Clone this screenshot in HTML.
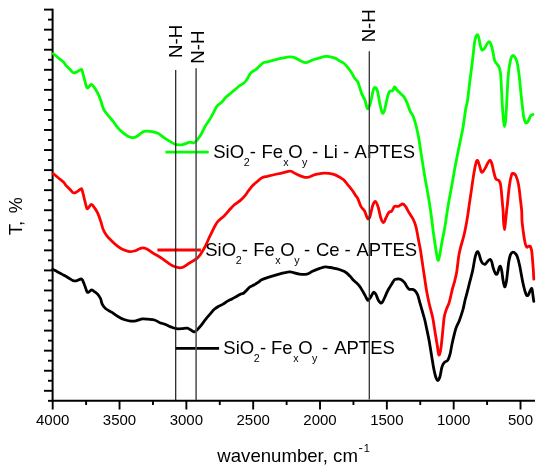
<!DOCTYPE html>
<html><head><meta charset="utf-8"><style>
html,body{margin:0;padding:0;background:#fff;}
svg{display:block;}
text{font-family:"Liberation Sans",Arial,sans-serif;fill:#000;}
</style></head><body>
<svg width="550" height="473" viewBox="0 0 550 473">
<rect width="550" height="473" fill="#fff"/>
<g stroke="#000" stroke-width="1.9" fill="none">
<line x1="44" y1="9.60" x2="52.6" y2="9.60"/>
<line x1="48" y1="19.63" x2="52.6" y2="19.63"/>
<line x1="44" y1="29.66" x2="52.6" y2="29.66"/>
<line x1="48" y1="39.69" x2="52.6" y2="39.69"/>
<line x1="44" y1="49.73" x2="52.6" y2="49.73"/>
<line x1="48" y1="59.76" x2="52.6" y2="59.76"/>
<line x1="44" y1="69.79" x2="52.6" y2="69.79"/>
<line x1="48" y1="79.82" x2="52.6" y2="79.82"/>
<line x1="44" y1="89.85" x2="52.6" y2="89.85"/>
<line x1="48" y1="99.88" x2="52.6" y2="99.88"/>
<line x1="44" y1="109.92" x2="52.6" y2="109.92"/>
<line x1="48" y1="119.95" x2="52.6" y2="119.95"/>
<line x1="44" y1="129.98" x2="52.6" y2="129.98"/>
<line x1="48" y1="140.01" x2="52.6" y2="140.01"/>
<line x1="44" y1="150.04" x2="52.6" y2="150.04"/>
<line x1="48" y1="160.07" x2="52.6" y2="160.07"/>
<line x1="44" y1="170.11" x2="52.6" y2="170.11"/>
<line x1="48" y1="180.14" x2="52.6" y2="180.14"/>
<line x1="44" y1="190.17" x2="52.6" y2="190.17"/>
<line x1="48" y1="200.20" x2="52.6" y2="200.20"/>
<line x1="44" y1="210.23" x2="52.6" y2="210.23"/>
<line x1="48" y1="220.26" x2="52.6" y2="220.26"/>
<line x1="44" y1="230.29" x2="52.6" y2="230.29"/>
<line x1="48" y1="240.33" x2="52.6" y2="240.33"/>
<line x1="44" y1="250.36" x2="52.6" y2="250.36"/>
<line x1="48" y1="260.39" x2="52.6" y2="260.39"/>
<line x1="44" y1="270.42" x2="52.6" y2="270.42"/>
<line x1="48" y1="280.45" x2="52.6" y2="280.45"/>
<line x1="44" y1="290.48" x2="52.6" y2="290.48"/>
<line x1="48" y1="300.52" x2="52.6" y2="300.52"/>
<line x1="44" y1="310.55" x2="52.6" y2="310.55"/>
<line x1="48" y1="320.58" x2="52.6" y2="320.58"/>
<line x1="44" y1="330.61" x2="52.6" y2="330.61"/>
<line x1="48" y1="340.64" x2="52.6" y2="340.64"/>
<line x1="44" y1="350.67" x2="52.6" y2="350.67"/>
<line x1="48" y1="360.71" x2="52.6" y2="360.71"/>
<line x1="44" y1="370.74" x2="52.6" y2="370.74"/>
<line x1="48" y1="380.77" x2="52.6" y2="380.77"/>
<line x1="44" y1="390.80" x2="52.6" y2="390.80"/>
<line x1="48" y1="400.83" x2="52.6" y2="400.83"/>
<line x1="52.70" y1="400.8" x2="52.70" y2="409.5"/>
<line x1="119.53" y1="400.8" x2="119.53" y2="409.5"/>
<line x1="186.36" y1="400.8" x2="186.36" y2="409.5"/>
<line x1="253.19" y1="400.8" x2="253.19" y2="409.5"/>
<line x1="320.02" y1="400.8" x2="320.02" y2="409.5"/>
<line x1="386.85" y1="400.8" x2="386.85" y2="409.5"/>
<line x1="453.68" y1="400.8" x2="453.68" y2="409.5"/>
<line x1="520.51" y1="400.8" x2="520.51" y2="409.5"/>
<line x1="86.12" y1="400.8" x2="86.12" y2="405"/>
<line x1="152.94" y1="400.8" x2="152.94" y2="405"/>
<line x1="219.77" y1="400.8" x2="219.77" y2="405"/>
<line x1="286.61" y1="400.8" x2="286.61" y2="405"/>
<line x1="353.44" y1="400.8" x2="353.44" y2="405"/>
<line x1="420.26" y1="400.8" x2="420.26" y2="405"/>
<line x1="487.09" y1="400.8" x2="487.09" y2="405"/>
</g>
<line x1="52.6" y1="8.7" x2="52.6" y2="401.8" stroke="#000" stroke-width="2"/>
<line x1="51.6" y1="400.8" x2="535" y2="400.8" stroke="#000" stroke-width="2"/>
<g font-size="15">
<text x="52.70" y="425.4" text-anchor="middle">4000</text>
<text x="119.53" y="425.4" text-anchor="middle">3500</text>
<text x="186.36" y="425.4" text-anchor="middle">3000</text>
<text x="253.19" y="425.4" text-anchor="middle">2500</text>
<text x="320.02" y="425.4" text-anchor="middle">2000</text>
<text x="386.85" y="425.4" text-anchor="middle">1500</text>
<text x="453.68" y="425.4" text-anchor="middle">1000</text>
<text x="520.51" y="425.4" text-anchor="middle">500</text>
</g>
<text x="217.33" y="462.3" font-size="18.6">wavenumber, cm</text><text x="358.62" y="452.2" font-size="13">-</text><text x="363.76" y="452" font-size="11">1</text><text transform="translate(21.9,235.32) rotate(-90)" font-size="18.8">T,</text><text transform="translate(21.9,213.24) rotate(-90)" font-size="18">%</text>
<text transform="translate(181.8,57.93) rotate(-90)" font-size="18.6">N-H</text>
<text transform="translate(203.7,63.73) rotate(-90)" font-size="18.6">N-H</text>
<text transform="translate(374.9,42.33) rotate(-90)" font-size="18.6">N-H</text>
<g fill="none" stroke-width="2.8" stroke-linejoin="round" stroke-linecap="round">
<path stroke="#00ff00" d="M53.2,53.7C54.1,54.4 56.8,56.6 58.5,58.0C60.2,59.4 62.5,61.0 63.7,62.2C64.9,63.4 64.8,64.2 65.9,65.4C67.0,66.6 68.9,68.4 70.1,69.6C71.3,70.8 72.2,72.4 73.3,72.8C74.3,73.2 75.2,72.6 76.4,72.1C77.6,71.6 79.8,69.8 80.7,69.6C81.7,69.4 81.4,68.8 82.1,70.7C82.8,72.6 84.1,78.4 84.9,81.2C85.7,84.0 86.3,86.7 87.0,87.6C87.7,88.5 88.4,87.0 89.1,86.5C89.8,86.0 90.5,84.5 91.2,84.4C91.9,84.3 92.2,84.7 93.3,86.1C94.4,87.5 96.4,90.5 97.6,92.9C98.8,95.3 99.9,98.1 100.7,100.3C101.5,102.5 101.9,104.6 102.5,106.3C103.1,108.0 103.4,108.9 104.4,110.6C105.4,112.2 107.2,114.4 108.7,116.2C110.2,118.0 111.6,119.5 113.1,121.3C114.6,123.1 115.9,125.4 117.5,127.3C119.1,129.2 121.1,131.2 122.9,132.7C124.7,134.2 126.6,135.7 128.4,136.5C130.2,137.3 132.2,137.8 133.8,137.6C135.4,137.4 136.8,136.4 138.2,135.5C139.6,134.6 141.2,132.9 142.5,132.2C143.8,131.5 144.2,131.2 145.8,131.1C147.5,131.0 150.4,131.2 152.4,131.6C154.4,132.0 155.9,132.4 157.8,133.3C159.7,134.2 161.7,136.0 163.6,137.3C165.5,138.6 167.3,139.8 169.1,140.9C170.9,142.0 172.8,143.3 174.5,144.0C176.2,144.7 177.7,144.8 179.1,144.9C180.5,145.0 181.5,145.0 182.7,144.7C183.9,144.4 185.2,143.7 186.4,143.3C187.6,142.9 188.8,142.3 190.0,142.2C191.2,142.1 192.7,143.0 193.6,142.9C194.5,142.8 194.7,142.5 195.5,141.8C196.3,141.1 197.3,139.8 198.2,138.6C199.1,137.4 199.7,136.9 200.9,134.8C202.1,132.7 203.9,128.5 205.4,125.9C206.9,123.3 208.5,121.5 209.8,119.3C211.2,117.1 212.3,114.8 213.5,112.6C214.7,110.4 215.8,107.6 217.2,105.9C218.6,104.2 220.2,103.7 221.7,102.2C223.2,100.7 224.6,98.5 226.1,97.0C227.6,95.5 229.1,94.5 230.6,93.3C232.1,92.1 233.5,90.8 235.0,89.6C236.5,88.4 237.9,87.0 239.4,85.9C240.9,84.8 242.7,84.1 243.9,83.0C245.2,81.9 245.7,81.2 246.9,79.5C248.1,77.8 249.3,74.4 250.9,72.7C252.5,71.0 254.4,70.7 256.4,69.1C258.4,67.5 260.9,64.3 262.7,63.1C264.5,61.9 265.3,62.3 267.3,61.8C269.3,61.3 272.1,60.6 274.5,60.0C276.9,59.4 279.2,58.7 281.8,58.2C284.4,57.7 287.9,57.0 290.0,56.9C292.1,56.8 292.8,57.0 294.5,57.6C296.2,58.2 298.1,59.7 300.0,60.5C301.9,61.3 303.8,62.7 306.0,62.6C308.2,62.5 310.8,60.6 313.1,59.8C315.4,59.0 317.4,58.4 319.6,57.8C321.8,57.2 324.0,56.5 326.2,56.4C328.4,56.3 331.1,57.0 332.7,57.4C334.3,57.8 334.9,57.9 336.0,58.5C337.1,59.1 338.0,60.0 339.3,60.8C340.6,61.5 342.2,61.8 343.6,63.0C345.1,64.2 346.7,66.3 348.0,67.8C349.3,69.3 350.2,70.5 351.3,72.2C352.4,73.9 353.4,76.4 354.5,78.0C355.6,79.6 357.0,80.5 357.8,82.0C358.6,83.5 358.8,84.9 359.5,86.9C360.2,88.9 360.9,91.7 361.8,93.9C362.7,96.1 364.1,97.8 365.0,100.3C365.9,102.8 366.6,108.2 367.5,108.7C368.4,109.2 369.3,106.6 370.3,103.4C371.3,100.2 372.5,92.3 373.4,89.7C374.3,87.1 374.8,87.2 375.5,87.6C376.2,87.9 377.0,89.2 377.7,91.8C378.4,94.4 379.0,99.9 379.8,103.4C380.6,106.9 381.5,111.7 382.3,112.9C383.1,114.1 383.7,112.7 384.4,110.8C385.1,108.9 385.7,104.5 386.5,101.3C387.3,98.1 388.3,93.6 389.3,91.8C390.3,90.0 391.6,91.5 392.5,90.7C393.4,89.9 393.9,87.1 394.6,86.9C395.3,86.7 395.6,88.5 396.7,89.7C397.8,90.9 399.7,92.7 400.9,93.9C402.1,95.1 403.0,95.5 404.1,97.1C405.2,98.7 406.3,101.1 407.3,103.4C408.3,105.7 409.0,108.6 410.0,110.8C411.0,113.0 412.3,114.1 413.3,116.7C414.3,119.3 415.2,122.4 416.2,126.2C417.1,130.0 418.1,134.1 419.0,139.5C419.9,144.9 420.9,152.4 421.9,158.6C422.9,164.8 423.8,170.4 424.8,176.5C425.8,182.6 427.0,188.7 428.1,195.1C429.2,201.5 430.3,208.6 431.2,215.2C432.1,221.8 432.9,229.1 433.7,234.8C434.5,240.5 435.2,245.4 435.9,249.6C436.6,253.8 437.3,259.0 437.9,260.0C438.5,261.0 438.9,258.6 439.6,255.6C440.3,252.6 441.0,246.9 441.9,242.2C442.8,237.5 443.8,233.6 444.8,227.4C445.9,221.2 447.0,212.3 448.2,205.2C449.4,198.1 450.7,191.5 451.9,185.0C453.1,178.5 454.0,172.5 455.2,166.2C456.4,159.9 457.7,153.4 459.0,147.1C460.3,140.8 461.8,134.4 462.9,128.1C464.0,121.8 464.9,113.7 465.7,109.0C466.5,104.3 466.9,105.0 467.6,100.0C468.3,95.0 469.2,86.0 470.1,79.2C471.0,72.4 471.9,65.4 472.7,58.9C473.5,52.4 474.2,44.3 474.9,40.3C475.6,36.3 476.3,35.5 476.9,34.9C477.5,34.3 478.0,35.1 478.6,36.9C479.2,38.6 479.7,43.2 480.3,45.4C480.9,47.6 481.3,49.6 482.0,50.1C482.7,50.6 483.6,49.5 484.5,48.4C485.4,47.3 486.3,44.8 487.1,43.7C487.9,42.6 488.5,41.6 489.1,41.6C489.7,41.6 490.2,42.0 490.8,43.7C491.4,45.5 492.4,49.3 493.0,52.1C493.6,54.9 494.1,58.6 494.7,60.6C495.3,62.6 496.1,62.9 496.9,64.0C497.6,65.1 498.6,65.7 499.2,67.4C499.8,69.1 500.2,70.7 500.6,74.1C501.0,77.5 501.1,82.3 501.4,87.7C501.7,93.1 502.0,100.9 502.4,106.4C502.8,111.9 503.1,117.2 503.5,120.5C503.9,123.8 504.1,126.5 504.5,126.5C504.9,126.5 505.2,124.4 505.6,120.5C506.0,116.6 506.3,110.5 506.7,103.0C507.1,95.5 507.6,82.9 508.2,75.8C508.8,68.7 509.6,64.0 510.4,60.6C511.2,57.2 511.9,55.9 512.8,55.5C513.6,55.1 514.7,56.7 515.5,58.1C516.3,59.5 516.9,61.0 517.5,64.0C518.1,67.0 518.6,71.0 519.2,75.8C519.8,80.6 520.4,88.2 520.9,92.7C521.4,97.2 521.5,99.2 522.0,103.1C522.5,107.0 523.1,113.0 523.6,116.2C524.1,119.4 524.8,121.1 525.3,122.2C525.8,123.3 526.4,123.0 526.9,122.7C527.4,122.4 527.9,121.7 528.5,120.5C529.1,119.3 530.0,116.6 530.7,115.6C531.4,114.6 532.5,114.7 532.9,114.5"/>
<path stroke="#ff0000" d="M53.2,173.7C54.1,174.4 56.8,176.6 58.5,178.0C60.2,179.4 62.5,181.0 63.7,182.2C64.9,183.4 64.8,184.2 65.9,185.4C67.0,186.6 68.9,188.4 70.1,189.6C71.3,190.8 72.2,192.4 73.3,192.8C74.3,193.2 75.2,192.7 76.4,192.1C77.6,191.5 79.8,189.5 80.7,189.2C81.7,188.8 81.4,188.0 82.1,190.0C82.8,192.0 84.1,198.1 84.9,201.2C85.7,204.3 86.3,207.6 87.0,208.6C87.7,209.6 88.4,207.7 89.1,207.0C89.8,206.3 90.5,204.6 91.2,204.4C91.9,204.2 92.2,204.7 93.3,206.1C94.4,207.5 96.4,210.4 97.6,212.9C98.8,215.4 99.8,218.5 100.7,221.3C101.7,224.1 102.3,227.5 103.3,229.8C104.3,232.1 105.0,233.4 106.5,235.3C108.0,237.2 110.2,239.5 112.0,241.3C113.8,243.1 115.7,244.8 117.5,246.2C119.3,247.6 120.9,248.6 122.9,249.5C124.9,250.4 127.5,251.4 129.5,251.6C131.5,251.8 133.3,251.2 134.9,250.8C136.5,250.4 137.7,249.5 139.0,249.0C140.3,248.5 141.2,247.8 142.5,247.8C143.8,247.8 145.2,248.1 146.9,248.9C148.6,249.7 150.2,251.3 152.4,252.7C154.6,254.1 157.8,255.8 160.2,257.3C162.6,258.8 164.6,260.5 166.7,261.9C168.8,263.3 170.6,264.8 172.6,265.8C174.6,266.8 176.7,267.5 178.4,267.7C180.1,267.9 181.4,267.8 183.0,267.2C184.6,266.6 186.1,265.2 187.7,264.2C189.2,263.2 190.8,262.4 192.3,261.4C193.9,260.4 195.6,259.7 197.0,258.4C198.4,257.1 199.6,255.6 200.9,253.7C202.2,251.8 203.6,249.6 205.1,246.7C206.6,243.8 208.7,238.7 209.8,236.4C210.9,234.1 210.7,234.6 211.5,233.0C212.3,231.4 213.3,229.0 214.4,227.0C215.5,225.0 216.5,222.9 218.1,221.1C219.7,219.2 222.1,217.9 224.1,215.9C226.1,213.9 228.3,211.2 230.0,209.3C231.7,207.5 232.7,206.3 234.4,204.8C236.1,203.3 238.7,201.9 240.4,200.4C242.1,198.9 243.5,197.5 244.8,195.9C246.2,194.3 247.2,192.4 248.5,190.7C249.8,189.0 251.2,187.0 252.7,185.5C254.2,184.0 255.8,182.8 257.3,181.5C258.9,180.2 260.3,178.7 262.0,177.8C263.7,176.9 264.9,176.9 267.5,176.3C270.1,175.7 274.5,174.7 277.3,174.0C280.1,173.3 282.3,172.8 284.5,172.3C286.7,171.8 288.5,170.9 290.4,171.2C292.3,171.4 293.8,172.9 295.8,173.8C297.8,174.7 300.4,176.0 302.4,176.6C304.4,177.2 305.6,177.7 307.6,177.4C309.6,177.1 312.3,175.5 314.2,174.9C316.1,174.3 317.5,174.1 319.1,173.8C320.7,173.5 322.4,173.3 324.0,173.2C325.6,173.1 326.9,173.2 328.5,173.4C330.1,173.6 332.0,173.8 333.8,174.4C335.6,175.0 337.7,176.1 339.3,177.0C340.9,177.9 342.2,178.3 343.6,179.7C345.1,181.0 346.5,183.3 348.0,185.1C349.5,186.9 351.1,188.8 352.4,190.5C353.7,192.2 354.7,194.1 355.6,195.5C356.5,196.9 356.9,196.9 357.8,198.7C358.7,200.5 359.8,204.4 360.9,206.4C362.0,208.4 363.4,208.9 364.5,210.9C365.6,212.9 366.7,217.6 367.6,218.5C368.5,219.4 369.1,218.6 370.0,216.4C370.9,214.2 371.8,208.0 372.7,205.5C373.6,203.0 374.6,201.2 375.5,201.5C376.4,201.8 377.3,204.5 378.2,207.3C379.1,210.1 380.0,215.6 380.9,218.2C381.8,220.8 382.8,222.7 383.6,222.7C384.4,222.7 385.0,219.9 385.8,218.2C386.6,216.5 387.7,213.9 388.7,212.7C389.7,211.5 390.8,211.9 391.8,210.9C392.8,209.9 393.4,207.2 394.5,206.4C395.6,205.7 396.8,206.8 398.2,206.4C399.6,206.0 401.5,204.0 402.7,204.0C403.9,204.0 404.4,205.0 405.5,206.4C406.6,207.8 407.8,210.6 409.1,212.7C410.4,214.8 411.9,216.8 413.1,219.2C414.3,221.6 415.3,224.2 416.1,227.3C416.9,230.4 417.4,234.1 418.1,237.8C418.8,241.5 419.6,245.2 420.4,249.6C421.1,254.0 421.9,259.4 422.6,264.4C423.3,269.3 424.1,274.8 424.8,279.3C425.5,283.8 426.0,287.6 426.7,291.6C427.4,295.6 428.1,299.0 429.1,303.3C430.1,307.6 431.6,312.6 432.6,317.2C433.6,321.8 434.1,326.5 434.9,331.2C435.7,335.9 436.5,341.2 437.2,345.1C437.9,349.1 438.2,354.1 438.8,354.9C439.4,355.7 440.1,353.0 440.7,349.8C441.3,346.6 441.7,341.2 442.3,335.8C442.9,330.4 443.5,321.6 444.2,317.2C444.9,312.8 445.6,311.6 446.5,309.1C447.4,306.6 448.3,305.4 449.3,302.1C450.3,298.8 451.5,292.6 452.3,289.3C453.1,286.0 453.7,285.1 454.4,282.2C455.1,279.3 456.0,276.1 456.7,271.9C457.4,267.7 458.0,261.0 458.6,257.0C459.2,253.0 459.5,251.8 460.4,248.1C461.3,244.4 463.0,239.5 464.1,234.8C465.2,230.1 466.1,225.1 467.0,220.0C467.9,214.9 468.5,209.7 469.3,204.3C470.1,198.9 471.0,193.1 471.8,187.4C472.6,181.8 473.5,174.9 474.4,170.4C475.2,165.9 476.1,161.7 476.9,160.6C477.6,159.5 478.2,161.9 478.9,163.7C479.6,165.5 480.5,170.0 481.1,171.3C481.8,172.7 482.1,172.4 482.8,171.8C483.5,171.2 484.5,169.4 485.4,167.9C486.2,166.4 487.1,164.1 487.9,162.8C488.7,161.5 489.4,160.0 490.1,160.3C490.8,160.6 491.5,162.5 492.1,164.5C492.7,166.5 493.2,169.7 493.8,172.1C494.4,174.5 495.0,177.5 495.9,178.9C496.8,180.3 498.1,179.6 498.9,180.6C499.7,181.6 500.1,182.0 500.6,184.8C501.1,187.6 501.5,193.1 501.9,197.5C502.3,201.9 502.8,207.1 503.1,211.0C503.4,214.9 503.3,217.8 503.5,220.9C503.7,224.0 504.1,229.6 504.5,229.6C504.9,229.6 505.2,224.2 505.6,220.9C506.0,217.6 506.4,212.8 506.7,210.0C507.0,207.2 506.9,208.4 507.4,204.3C507.8,200.2 508.7,190.6 509.4,185.7C510.1,180.8 511.0,176.7 511.6,174.7C512.2,172.7 512.6,173.4 513.3,173.5C514.0,173.6 514.9,173.8 515.8,175.5C516.6,177.2 517.7,180.6 518.4,184.0C519.1,187.4 519.5,191.3 520.0,195.8C520.5,200.3 521.4,206.8 521.7,211.0C522.0,215.2 521.7,217.1 522.0,220.9C522.3,224.7 523.1,230.2 523.6,234.0C524.1,237.8 524.8,241.6 525.3,243.8C525.8,246.0 526.4,246.8 526.9,247.2C527.4,247.6 527.9,246.4 528.5,246.3C529.1,246.2 529.9,245.6 530.4,246.5C530.9,247.4 531.5,249.8 531.8,251.5C532.1,253.2 532.0,253.9 532.3,256.9C532.5,259.9 533.0,265.9 533.3,269.6C533.5,273.3 533.7,277.5 533.8,279.1"/>
<path stroke="#000" d="M52.7,269.2C53.5,269.6 55.6,270.8 57.3,271.7C59.0,272.6 60.9,273.6 62.7,274.6C64.5,275.6 66.5,276.7 68.2,277.7C69.9,278.7 71.3,280.0 72.7,280.5C74.1,281.0 75.0,281.1 76.4,280.8C77.8,280.6 79.9,279.1 80.9,279.0C82.0,278.9 81.9,279.1 82.7,280.5C83.5,281.9 84.7,285.7 85.5,287.7C86.3,289.7 86.6,291.7 87.3,292.3C88.0,292.9 88.8,291.8 89.6,291.4C90.3,291.0 91.0,289.8 91.8,289.9C92.6,289.9 93.5,291.0 94.5,291.7C95.5,292.4 96.6,293.0 97.6,294.1C98.6,295.2 99.7,296.8 100.5,298.5C101.3,300.2 101.4,302.5 102.2,304.2C103.0,305.9 103.9,307.1 105.5,308.5C107.1,309.9 110.0,311.1 112.0,312.4C114.0,313.7 115.5,315.0 117.5,316.2C119.5,317.4 121.8,318.7 124.0,319.5C126.2,320.3 128.5,320.9 130.5,321.1C132.5,321.3 134.0,321.2 136.0,320.8C138.0,320.4 140.5,319.2 142.5,318.9C144.5,318.6 146.0,319.0 148.0,319.2C150.0,319.4 152.5,319.4 154.5,320.0C156.5,320.6 158.2,321.9 160.0,322.7C161.8,323.4 163.5,323.7 165.5,324.5C167.5,325.3 170.0,326.6 171.8,327.3C173.6,328.0 174.7,328.5 176.4,328.7C178.1,328.9 180.0,328.8 181.8,328.7C183.6,328.6 185.8,328.0 187.3,328.2C188.8,328.4 189.7,329.4 190.9,330.0C192.1,330.6 193.3,332.0 194.5,331.8C195.7,331.6 197.1,329.8 198.2,328.8C199.3,327.8 199.7,327.1 200.9,325.6C202.1,324.1 203.9,321.5 205.4,319.6C206.9,317.7 208.3,316.1 209.8,314.4C211.3,312.7 212.8,310.6 214.3,309.3C215.8,308.0 217.2,307.2 218.7,306.3C220.2,305.4 221.6,305.0 223.1,304.1C224.6,303.2 226.1,302.0 227.6,301.1C229.1,300.2 230.5,299.7 232.0,298.9C233.5,298.1 235.0,297.2 236.5,296.4C238.0,295.6 239.7,294.6 240.9,294.0C242.1,293.4 242.9,293.7 243.9,293.0C244.9,292.3 245.9,291.0 246.9,290.0C247.9,289.0 248.6,287.9 249.8,287.0C251.0,286.1 252.9,285.6 254.3,284.8C255.8,284.0 257.3,283.1 258.5,282.2C259.7,281.3 259.9,280.5 261.6,279.7C263.3,278.9 266.0,278.0 268.9,277.1C271.8,276.2 275.7,275.0 279.1,274.1C282.5,273.2 286.9,272.1 289.3,271.9C291.7,271.7 291.9,272.3 293.6,272.7C295.3,273.1 297.3,273.9 299.5,274.1C301.7,274.4 304.5,274.7 306.7,274.2C308.9,273.7 310.3,272.3 312.5,271.3C314.7,270.3 317.6,269.1 319.8,268.4C322.0,267.7 323.8,267.0 325.6,266.9C327.4,266.8 329.0,267.3 330.5,267.5C332.0,267.7 333.2,268.0 334.7,268.3C336.2,268.6 337.8,269.0 339.3,269.5C340.9,270.0 342.6,270.6 344.0,271.3C345.4,272.0 346.2,272.6 347.4,273.6C348.5,274.6 349.8,275.9 350.9,277.1C352.0,278.3 352.8,279.6 353.8,280.6C354.8,281.6 355.7,282.0 356.7,283.0C357.7,284.0 358.7,285.1 359.7,286.4C360.7,287.7 361.7,289.6 362.6,291.0C363.5,292.4 364.1,293.7 364.9,295.1C365.7,296.5 366.6,298.7 367.2,299.6C367.8,300.5 367.6,300.6 368.2,300.3C368.8,300.0 369.6,299.0 370.5,297.6C371.4,296.2 372.7,292.7 373.6,292.2C374.5,291.7 375.2,293.2 376.0,294.5C376.8,295.8 377.4,298.6 378.2,300.0C379.0,301.4 380.2,302.8 380.9,303.1C381.6,303.4 381.8,303.1 382.5,302.0C383.2,300.9 384.3,298.4 385.2,296.4C386.1,294.4 387.0,292.0 388.1,290.0C389.2,288.0 390.5,285.9 391.6,284.2C392.7,282.5 393.5,280.7 394.5,279.8C395.5,278.9 396.3,279.1 397.4,279.0C398.5,278.9 399.7,278.9 400.9,279.5C402.1,280.1 403.4,281.3 404.4,282.4C405.4,283.5 405.9,285.2 406.7,286.3C407.5,287.4 408.1,288.7 409.1,289.2C410.1,289.7 411.5,289.1 412.6,289.4C413.7,289.7 414.6,290.2 415.5,291.2C416.4,292.2 417.0,293.2 417.8,295.2C418.6,297.2 419.3,300.7 420.1,303.4C420.9,306.1 421.6,308.7 422.4,311.5C423.2,314.3 424.1,317.1 424.8,320.0C425.5,322.9 426.0,325.4 426.7,328.8C427.4,332.2 428.3,336.2 429.1,340.5C429.9,344.8 430.6,349.8 431.4,354.4C432.2,359.0 432.9,364.5 433.7,368.4C434.5,372.3 435.3,375.7 436.0,377.7C436.7,379.7 437.0,380.7 437.7,380.5C438.4,380.3 439.3,378.7 440.0,376.5C440.7,374.3 441.2,369.5 441.9,367.2C442.6,364.9 443.2,363.8 444.2,362.6C445.2,361.4 446.7,361.6 447.7,360.2C448.7,358.8 449.2,357.3 450.0,354.4C450.8,351.5 451.3,347.1 452.3,342.8C453.3,338.5 454.6,332.5 455.8,328.8C457.0,325.1 458.1,323.8 459.3,320.7C460.5,317.6 461.8,313.6 462.8,310.2C463.8,306.8 464.3,303.2 465.1,300.0C465.9,296.8 466.8,293.9 467.6,290.7C468.4,287.5 469.2,284.0 470.1,280.6C471.0,277.2 471.9,274.2 472.7,270.4C473.5,266.6 474.3,260.9 475.0,257.8C475.7,254.7 476.4,252.3 477.1,251.7C477.8,251.1 478.4,252.6 479.0,254.0C479.6,255.4 480.3,258.7 480.9,260.3C481.5,261.9 482.1,262.9 482.8,263.5C483.6,264.1 484.5,264.5 485.4,264.1C486.2,263.7 487.1,261.7 487.9,260.9C488.7,260.1 489.6,259.2 490.2,259.3C490.8,259.4 491.2,260.2 491.7,261.6C492.2,263.0 492.6,265.9 493.2,267.9C493.8,269.9 494.8,272.7 495.5,273.6C496.2,274.6 496.8,274.7 497.4,273.6C498.0,272.6 498.8,268.5 499.3,267.3C499.8,266.1 500.2,265.9 500.6,266.6C501.0,267.3 501.5,269.4 501.9,271.7C502.3,274.0 502.6,278.1 503.1,280.6C503.6,283.1 504.2,286.7 504.7,286.9C505.2,287.1 505.8,284.4 506.3,281.9C506.8,279.4 507.2,275.1 507.6,271.7C508.0,268.3 508.3,264.5 508.8,261.6C509.3,258.8 509.8,256.2 510.5,254.6C511.2,253.0 512.1,252.2 513.0,252.1C513.9,252.0 515.0,253.1 515.8,254.0C516.6,254.9 517.1,255.9 517.7,257.8C518.3,259.7 518.8,261.3 519.6,265.4C520.5,269.5 521.8,277.6 522.8,282.3C523.8,287.1 525.0,291.7 525.9,293.9C526.8,296.1 527.4,295.9 528.1,295.4C528.8,294.9 529.6,291.8 530.2,290.7C530.8,289.6 531.5,287.9 531.9,288.6C532.3,289.3 532.6,292.9 532.9,295.0C533.2,297.1 533.6,300.2 533.8,301.3"/>
</g>
<g stroke-width="2.8">
<line x1="165.5" y1="152.2" x2="208.7" y2="152.2" stroke="#00ff00"/>
<line x1="157.4" y1="250" x2="200.9" y2="250" stroke="#ff0000"/>
<line x1="175.5" y1="348.4" x2="219.1" y2="348.4" stroke="#000"/>
</g>
<text><tspan x="213.26" y="157.70" font-size="18.5">SiO</tspan><tspan x="243.86" y="165.50" font-size="10.7">2</tspan><tspan x="249.78" y="157.70" font-size="18.5">-</tspan><tspan x="261.38" y="157.70" font-size="18.5">Fe</tspan><tspan x="283.18" y="165.50" font-size="10.7">x</tspan><tspan x="288.22" y="157.70" font-size="18.5">O</tspan><tspan x="302.07" y="165.50" font-size="10.7">y</tspan><tspan x="312.08" y="157.70" font-size="18.5">-</tspan><tspan x="323.48" y="157.70" font-size="18.5">Li</tspan><tspan x="342.88" y="157.70" font-size="18.5">-</tspan><tspan x="354.56" y="157.70" font-size="18.5">APTES</tspan></text>
<text><tspan x="205.26" y="255.80" font-size="18.5">SiO</tspan><tspan x="235.76" y="263.60" font-size="10.7">2</tspan><tspan x="241.78" y="255.80" font-size="18.5">-</tspan><tspan x="253.18" y="255.80" font-size="18.5">Fe</tspan><tspan x="275.18" y="263.60" font-size="10.7">x</tspan><tspan x="280.22" y="255.80" font-size="18.5">O</tspan><tspan x="294.27" y="263.60" font-size="10.7">y</tspan><tspan x="304.08" y="255.80" font-size="18.5">-</tspan><tspan x="315.96" y="255.80" font-size="18.5">Ce</tspan><tspan x="344.48" y="255.80" font-size="18.5">-</tspan><tspan x="356.46" y="255.80" font-size="18.5">APTES</tspan></text>
<text><tspan x="223.36" y="353.80" font-size="18.5">SiO</tspan><tspan x="253.66" y="361.60" font-size="10.7">2</tspan><tspan x="259.98" y="353.80" font-size="18.5">-</tspan><tspan x="270.88" y="353.80" font-size="18.5">Fe</tspan><tspan x="293.18" y="361.60" font-size="10.7">x</tspan><tspan x="298.22" y="353.80" font-size="18.5">O</tspan><tspan x="312.07" y="361.60" font-size="10.7">y</tspan><tspan x="322.08" y="353.80" font-size="18.5">-</tspan><tspan x="334.16" y="353.80" font-size="18.5">APTES</tspan></text>
<line x1="175.7" y1="70" x2="175.7" y2="400" stroke="#1a1a1a" stroke-width="1.2"/>
<line x1="196.1" y1="68.3" x2="196.1" y2="400" stroke="#555" stroke-width="1.6"/>
<line x1="369.3" y1="51.2" x2="369.3" y2="399.5" stroke="#333" stroke-width="1.3"/>

</svg>
</body></html>
